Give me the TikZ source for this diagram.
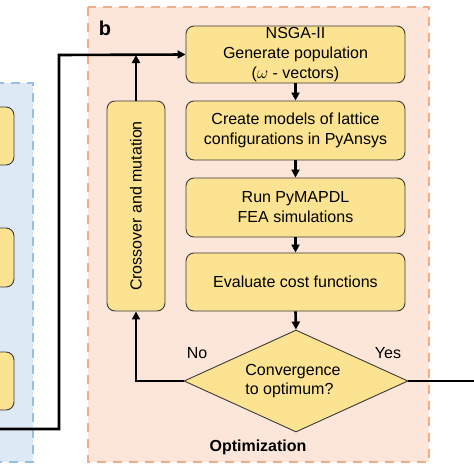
\documentclass[tikz,border=0pt]{standalone}
\usepackage{fontspec}
\setmainfont{Liberation Sans}
\usetikzlibrary{shapes.geometric,arrows.meta}
\definecolor{ybox}{HTML}{FCE391}
\definecolor{ybord}{HTML}{3A3A3A}
\definecolor{obg}{HTML}{FCE6DA}
\definecolor{obord}{HTML}{EFAE88}
\definecolor{bbg}{HTML}{DDEAF6}
\definecolor{bbord}{HTML}{98BEE2}
\tikzset{
  ybox/.style={draw=ybord, fill=ybox, line width=0.9pt, rounded corners=8pt, inner sep=0pt, align=center, font=\fontsize{16}{20}\selectfont},
  conn/.style={line width=2.6pt, -{Triangle[length=8pt,width=8pt]}},
  plainconn/.style={line width=2.6pt},
  panel/.style={line width=2.6pt, dash pattern=on 9pt off 7pt},
  lbl/.style={font=\fontsize{16}{19}\selectfont, inner sep=0pt}
}
\begin{document}
\begin{tikzpicture}[x=1pt,y=-1pt]
\useasboundingbox (0,0) rectangle (474,474);
\clip (0,0) rectangle (474,474);
% panel backgrounds
\draw[panel, fill=bbg, draw=bbord] (-60,83) rectangle (33,462);
\draw[panel, fill=obg, draw=obord] (88,7) rectangle (429,462);
\node[font=\bfseries\fontsize{20}{20}\selectfont, inner sep=0pt] (b) at (105,28) {b};
\node[font=\bfseries\fontsize{16}{18}\selectfont, inner sep=0pt] (opt) at (258,447) {Optimization};
% left panel boxes
\node[ybox, minimum width=70pt, minimum height=58pt] (la) at (-21,136) {};
\node[ybox, minimum width=70pt, minimum height=59pt] (lb) at (-21,257.5) {};
\node[ybox, minimum width=70pt, minimum height=58pt] (lc) at (-21,381) {};
% main flow
\node[ybox, minimum width=219pt, minimum height=57pt] (gen) at (295.5,54.5) {NSGA-II\\Generate population\\($\omega$ - vectors)};
\node[ybox, minimum width=219pt, minimum height=59pt] (create) at (295.5,130.5) {Create models of lattice\\configurations in PyAnsys};
\node[ybox, minimum width=219pt, minimum height=59pt] (run) at (295.5,207.5) {Run PyMAPDL\\FEA simulations};
\node[ybox, minimum width=219pt, minimum height=58pt] (eval) at (295.5,282) {Evaluate cost functions};
\node[draw=ybord, fill=ybox, line width=0.9pt, diamond, inner sep=0pt, minimum width=224pt, minimum height=102pt] (conv) at (296,381) {};
\node[lbl, align=left] (convt) at (293,381) {Convergence\\to optimum?};
\node[ybox, minimum width=58pt, minimum height=210pt] (cross) at (136,206) {\rotatebox{90}{Crossover and mutation}};
% connectors
\coordinate (src) at (0,429);
\coordinate (c1) at (59,429);
\coordinate (c2) at (59,55);
\coordinate (join) at (136,55);
\coordinate (nocorner) at (136,381);
\coordinate (yesend) at (474,381);
\draw[conn] (src) -- (c1) -- (c2) -- (gen.west);
\draw[conn] (cross.north) -- (join);
\draw[conn] (gen.south) -- (create.north);
\draw[conn] (create.south) -- (run.north);
\draw[conn] (run.south) -- (eval.north);
\draw[conn] (eval.south) -- (conv.north);
\draw[conn] (conv.west) -- (nocorner) -- (cross.south);
\draw[plainconn] (conv.east) -- (yesend);
\node[lbl] (no) at (197,353) {No};
\node[lbl] (yes) at (388,353) {Yes};
\end{tikzpicture}
\end{document}
